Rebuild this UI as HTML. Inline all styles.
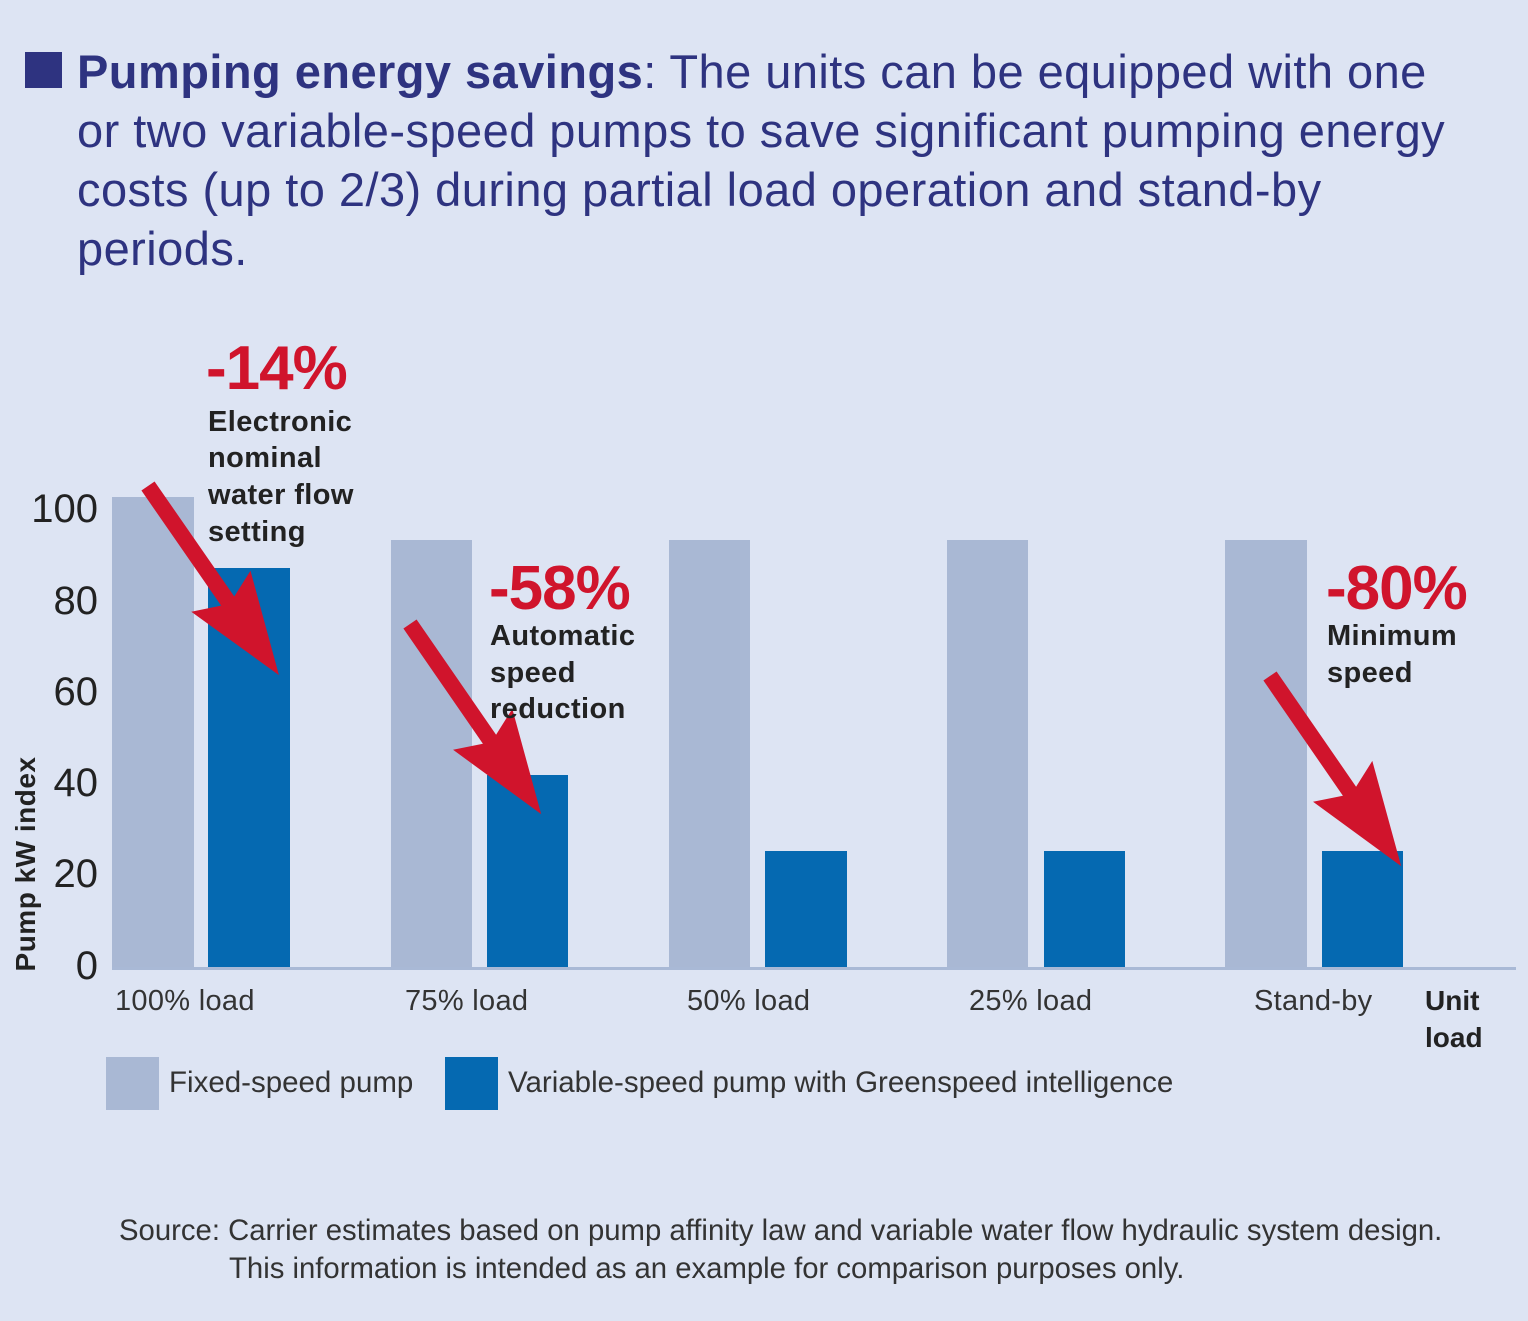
<!DOCTYPE html>
<html><head><meta charset="utf-8"><style>
body{margin:0;width:1528px;height:1321px;background:#dde4f3;overflow:hidden;font-family:"Liberation Sans",sans-serif;position:relative}
.a{position:absolute;white-space:nowrap}
</style></head><body>
<div class="a" style="left:25px;top:52px;width:37px;height:36px;background:#2e3380"></div>
<div class="a" style="left:77px;top:42px;font-size:47px;line-height:59px;color:#2e3380;white-space:normal;width:1440px;letter-spacing:0.45px">
<b>Pumping energy savings</b>: The units can be equipped with one<br>or two variable-speed pumps to save significant pumping energy<br>costs (up to 2/3) during partial load operation and stand-by<br>periods.</div>
<svg class="a" style="left:0;top:0" width="1528" height="1321">
<g fill="#a9b8d4">
<rect x="112" y="497" width="82" height="471"/>
<rect x="391" y="540" width="81" height="428"/>
<rect x="669" y="540" width="81" height="428"/>
<rect x="947" y="540" width="81" height="428"/>
<rect x="1225" y="540" width="82" height="428"/>
</g>
<g fill="#0569b1">
<rect x="208" y="568" width="82" height="400"/>
<rect x="487" y="775" width="81" height="193"/>
<rect x="765" y="851" width="82" height="117"/>
<rect x="1044" y="851" width="81" height="117"/>
<rect x="1322" y="851" width="81" height="117"/>
</g>
<rect x="112" y="967" width="1404" height="3" fill="#a9b9d6"/>
<g fill="#d0142c">
<path transform="translate(148,486) rotate(55.3)" d="M0,-8 L140,-8 L128,-36 L230,0 L128,36 L140,8 L0,8Z"/>
<path transform="translate(410,624) rotate(55.4)" d="M0,-8 L140,-8 L128,-36 L231,0 L128,36 L140,8 L0,8Z"/>
<path transform="translate(1270,676) rotate(55.4)" d="M0,-8 L140,-8 L128,-36 L231,0 L128,36 L140,8 L0,8Z"/>
</g>
<g font-family="Liberation Sans, sans-serif" font-size="40" fill="#222" text-anchor="end">
<text x="98" y="522">100</text><text x="98" y="614">80</text><text x="98" y="705">60</text>
<text x="98" y="796">40</text><text x="98" y="887">20</text><text x="98" y="979">0</text>
</g>
<text transform="translate(35,864) rotate(-90)" text-anchor="middle" font-family="Liberation Sans, sans-serif" font-weight="bold" font-size="28" letter-spacing="0.5" fill="#222">Pump kW index</text>
<g font-family="Liberation Sans, sans-serif" font-size="29" fill="#333" letter-spacing="0.3">
<text x="115" y="1010">100% load</text><text x="405" y="1010">75% load</text>
<text x="687" y="1010">50% load</text><text x="969" y="1010">25% load</text>
<text x="1254" y="1010">Stand-by</text>
</g>
<g font-family="Liberation Sans, sans-serif" font-size="28" font-weight="bold" fill="#222">
<text x="1425" y="1010">Unit</text><text x="1425" y="1047">load</text>
</g>
<rect x="106" y="1057" width="53" height="53" fill="#a9b8d4"/>
<rect x="445" y="1057" width="53" height="53" fill="#0569b1"/>
<g font-family="Liberation Sans, sans-serif" font-size="29.5" fill="#333">
<text x="169" y="1092">Fixed-speed pump</text>
<text x="508" y="1092">Variable-speed pump with Greenspeed intelligence</text>
</g>
<g font-family="Liberation Sans, sans-serif" font-size="29.3" fill="#333">
<text x="119" y="1240">Source: Carrier estimates based on pump affinity law and variable water flow hydraulic system design.</text>
<text x="229" y="1278">This information is intended as an example for comparison purposes only.</text>
</g>
<g font-family="Liberation Sans, sans-serif" font-weight="bold" fill="#d0142c" font-size="62" letter-spacing="-1">
<text x="206" y="389">-14%</text><text x="489" y="609">-58%</text><text x="1326" y="609">-80%</text>
</g>
<g font-family="Liberation Sans, sans-serif" font-weight="bold" fill="#222" font-size="29" letter-spacing="0.4">
<text x="208" y="431">Electronic</text><text x="208" y="467">nominal</text><text x="208" y="504">water flow</text><text x="208" y="541">setting</text>
<text x="490" y="645">Automatic</text><text x="490" y="682">speed</text><text x="490" y="718">reduction</text>
<text x="1327" y="645">Minimum</text><text x="1327" y="682">speed</text>
</g>
</svg>
</body></html>
